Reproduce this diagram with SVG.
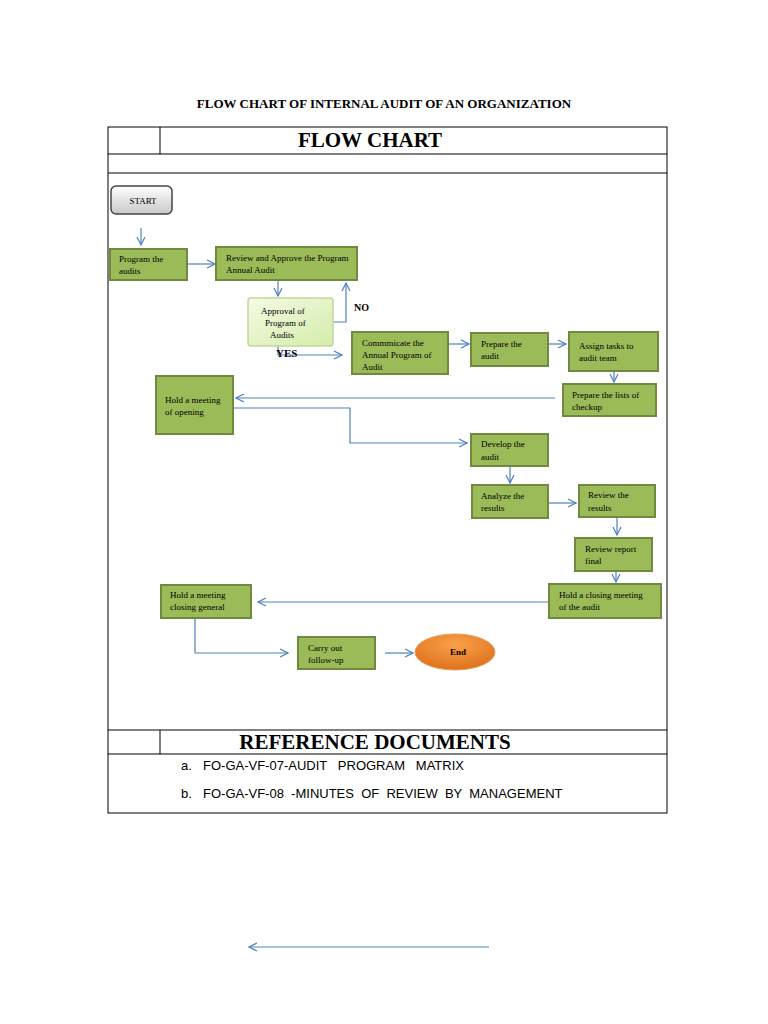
<svg xmlns="http://www.w3.org/2000/svg" width="768" height="1024" viewBox="0 0 768 1024">
<defs>
<linearGradient id="gs" x1="0" y1="0" x2="0" y2="1"><stop offset="0" stop-color="#ffffff"/><stop offset="1" stop-color="#c8c8c8"/></linearGradient>
<linearGradient id="ga" x1="0" y1="0" x2="1" y2="1"><stop offset="0" stop-color="#f4fbe4"/><stop offset="1" stop-color="#d4ecaa"/></linearGradient>
<radialGradient id="ge" cx="0.5" cy="0.3" r="0.7"><stop offset="0" stop-color="#f9a24a"/><stop offset="1" stop-color="#e0701c"/></radialGradient>
<marker id="ar" markerWidth="10" markerHeight="10" refX="9" refY="5" orient="auto" markerUnits="userSpaceOnUse"><path d="M1,1 L9,5 L1,9" fill="none" stroke="#4f81bd" stroke-width="1.2"/></marker>
</defs>
<style>
.t{font-family:"Liberation Serif",serif;fill:#000}
.n{font-family:"Liberation Serif",serif;font-size:9px;fill:#000}
.g{fill:#9bbb59;stroke:#71893f;stroke-width:2}
.c{fill:none;stroke:#4f81bd;stroke-width:1.2;marker-end:url(#ar)}
.b{fill:none;stroke:#000;stroke-width:1}
</style>
<rect width="768" height="1024" fill="#fff"/>
<text class="t" x="384" y="108" font-size="13" font-weight="bold" text-anchor="middle">FLOW CHART OF INTERNAL AUDIT OF AN ORGANIZATION</text>
<g id="table">
<rect class="b" x="108" y="127" width="559" height="686"/>
<line class="b" x1="108" y1="154" x2="667" y2="154"/>
<line class="b" x1="108" y1="173" x2="667" y2="173"/>
<line class="b" x1="160" y1="127" x2="160" y2="154"/>
<line class="b" x1="108" y1="730" x2="667" y2="730"/>
<line class="b" x1="108" y1="754" x2="667" y2="754"/>
<line class="b" x1="160" y1="730" x2="160" y2="754"/>
<text class="t" x="370" y="147" font-size="21" font-weight="bold" text-anchor="middle">FLOW CHART</text>
<text class="t" x="375" y="749" font-size="21" font-weight="bold" text-anchor="middle">REFERENCE DOCUMENTS</text>
<text x="181" y="770" font-family="Liberation Sans,sans-serif" font-size="13">a.</text>
<text x="203" y="770" font-family="Liberation Sans,sans-serif" font-size="13" xml:space="preserve">FO-GA-VF-07-AUDIT   PROGRAM   MATRIX</text>
<text x="181" y="798" font-family="Liberation Sans,sans-serif" font-size="13">b.</text>
<text x="203" y="798" font-family="Liberation Sans,sans-serif" font-size="13" xml:space="preserve">FO-GA-VF-08  -MINUTES  OF  REVIEW  BY  MANAGEMENT</text>
</g>
<g id="connectors">
<path class="c" d="M141,228 V245"/>
<path class="c" d="M187,264 H215"/>
<path class="c" d="M278,281 V296"/>
<path class="c" d="M331,322 H346 V283"/>
<path class="c" d="M278,340 V355 H342"/>
<path class="c" d="M449,344 H469"/>
<path class="c" d="M548,344 H566"/>
<path class="c" d="M614,372 V382"/>
<path class="c" d="M555,398 H236"/>
<path class="c" d="M234,408 H350 V443 H467"/>
<path class="c" d="M510,467 V483"/>
<path class="c" d="M548,503 H576"/>
<path class="c" d="M617,518 V535"/>
<path class="c" d="M616,572 V582"/>
<path class="c" d="M548,602 H258"/>
<path class="c" d="M195,618 V653 H288"/>
<path class="c" d="M385,653 H413"/>
<path class="c" d="M489,947 H249"/>
<text class="t" x="354" y="311" font-size="10" font-weight="bold">NO</text>
<text class="t" x="276" y="357" font-size="11" font-weight="bold">YES</text>
</g>
<g id="start"><rect x="111" y="186" width="61" height="28" rx="5" fill="url(#gs)" stroke="#444" stroke-width="1.5"/><text class="n" x="143" y="204" text-anchor="middle">START</text></g>
<g id="n1"><rect class="g" x="110" y="249" width="77" height="31"/><text class="n" x="119" y="262">Program the</text><text class="n" x="119" y="274">audits</text></g>
<g id="n2"><rect class="g" x="216" y="247" width="141" height="33"/><text class="n" x="226" y="261">Review and Approve the Program</text><text class="n" x="226" y="273">Annual Audit</text></g>
<g id="n3"><rect x="248" y="298" width="85" height="48" rx="3" fill="url(#ga)" stroke="#c3d69b" stroke-width="1.5"/><text class="n" x="261" y="314">Approval of</text><text class="n" x="265" y="326">Program of</text><text class="n" x="270" y="338">Audits</text></g>
<g id="n4"><rect class="g" x="352" y="332" width="96" height="42"/><text class="n" x="362" y="346">Commmicate the</text><text class="n" x="362" y="358">Annual Program of</text><text class="n" x="362" y="370">Audit</text></g>
<g id="n5"><rect class="g" x="471" y="333" width="77" height="33"/><text class="n" x="481" y="347">Prepare the</text><text class="n" x="481" y="359">audit</text></g>
<g id="n6"><rect class="g" x="569" y="332" width="89" height="39"/><text class="n" x="579" y="349">Assign tasks to</text><text class="n" x="579" y="361">audit team</text></g>
<g id="n7"><rect class="g" x="563" y="384" width="93" height="32"/><text class="n" x="572" y="398">Prepare the lists of</text><text class="n" x="572" y="410">checkup</text></g>
<g id="n8"><rect class="g" x="156" y="376" width="77" height="58"/><text class="n" x="165" y="403">Hold a meeting</text><text class="n" x="165" y="415">of opening</text></g>
<g id="n9"><rect class="g" x="471" y="434" width="77" height="32"/><text class="n" x="481" y="447">Develop the</text><text class="n" x="481" y="460">audit</text></g>
<g id="n10"><rect class="g" x="472" y="485" width="76" height="33"/><text class="n" x="481" y="499">Analyze the</text><text class="n" x="481" y="511">results</text></g>
<g id="n11"><rect class="g" x="579" y="485" width="76" height="32"/><text class="n" x="588" y="498">Review the</text><text class="n" x="588" y="511">results</text></g>
<g id="n12"><rect class="g" x="575" y="538" width="77" height="33"/><text class="n" x="585" y="552">Review report</text><text class="n" x="585" y="564">final</text></g>
<g id="n13"><rect class="g" x="549" y="584" width="112" height="34"/><text class="n" x="559" y="598">Hold a closing meeting</text><text class="n" x="559" y="610">of the audit</text></g>
<g id="n14"><rect class="g" x="161" y="585" width="90" height="33"/><text class="n" x="170" y="598">Hold a meeting</text><text class="n" x="170" y="610">closing general</text></g>
<g id="n15"><rect class="g" x="298" y="637" width="77" height="32"/><text class="n" x="308" y="651">Carry out</text><text class="n" x="308" y="663">follow-up</text></g>
<g id="end"><ellipse cx="455" cy="652" rx="40" ry="18" fill="url(#ge)" stroke="#e9a060" stroke-width="1"/><text class="n" x="458" y="655" text-anchor="middle" font-weight="bold">End</text></g>
</svg>
